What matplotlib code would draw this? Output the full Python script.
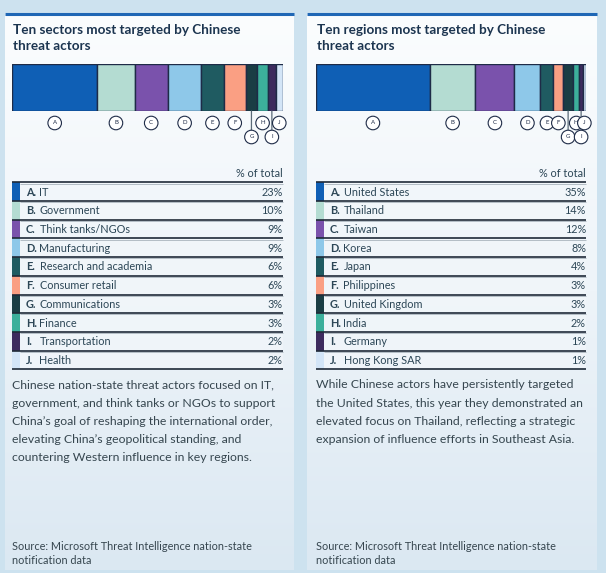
import numpy as np
import matplotlib
matplotlib.use("Agg")
import matplotlib.pyplot as plt
from matplotlib.patches import Rectangle
from matplotlib.colors import LinearSegmentedColormap

# ---------------- data ----------------
letters = ["A", "B", "C", "D", "E", "F", "G", "H", "I", "J"]

sector_title = "Ten sectors most targeted by Chinese\nthreat actors"
sector_names = ["IT", "Government", "Think tanks/NGOs", "Manufacturing",
                "Research and academia", "Consumer retail", "Communications",
                "Finance", "Transportation", "Health"]
sector_values = [23, 10, 9, 9, 6, 6, 3, 3, 2, 2]
sector_note = ("Chinese nation-state threat actors focused on IT,\n"
               "government, and think tanks or NGOs to support\n"
               "China\u2019s goal of reshaping the international order,\n"
               "elevating China\u2019s geopolitical standing, and\n"
               "countering Western influence in key regions.")

region_title = "Ten regions most targeted by Chinese\nthreat actors"
region_names = ["United States", "Thailand", "Taiwan", "Korea", "Japan",
                "Philippines", "United Kingdom", "India", "Germany",
                "Hong Kong SAR"]
region_values = [35, 14, 12, 8, 4, 3, 3, 2, 1, 1]
region_note = ("While Chinese actors have persistently targeted\n"
               "the United States, this year they demonstrated an\n"
               "elevated focus on Thailand, reflecting a strategic\n"
               "expansion of influence efforts in Southeast Asia.")

source_text = "Source: Microsoft Threat Intelligence nation-state\nnotification data"
col_header = "% of total"

# ---------------- style ----------------
colors = ["#0f5fb5", "#b4dcd2", "#7a52ac", "#8ec8e9", "#1f5b61",
          "#fa9f83", "#1a3d44", "#3caf9b", "#3d2b5e", "#d3e5f7"]
lowered = ["G", "I"]
edge = "#1e2b47"
txt = "#2c4656"
title_c = "#1c3550"
note_c = "#36464f"
outer_bg = "#cde2ef"
accent = "#1f67b5"

W, H = 606, 573
fig = plt.figure(figsize=(W / 100, H / 100), dpi=100)
fig.patch.set_facecolor(outer_bg)

bg = fig.add_axes([0, 0, 1, 1])
bg.set_xlim(0, W)
bg.set_ylim(H, 0)
bg.axis("off")

FONT = "Lato"
cmap = LinearSegmentedColormap.from_list("p", ["#fbfdfe", "#eef4f9", "#dbe8f2"])
grad = np.linspace(0, 1, 256).reshape(-1, 1)

panels = [
    dict(x0=5, x1=294, bx0=12, bx1=283, title=sector_title, names=sector_names,
         values=sector_values, note=sector_note),
    dict(x0=307, x1=597, bx0=316, bx1=586, title=region_title, names=region_names,
         values=region_values, note=region_note),
]

top, bottom = 13, 570
bar_top, bar_bot = 64, 111
row_top, row_h = 182.3, 18.7

for p in panels:
    x0, x1, bx0, bx1 = p["x0"], p["x1"], p["bx0"], p["bx1"]
    bg.imshow(grad, extent=[x0, x1, bottom, top], cmap=cmap, aspect="auto",
              zorder=0, interpolation="bicubic")
    bg.plot([x0, x1], [top + 1, top + 1], color=accent, lw=2.2, zorder=2,
            solid_capstyle="butt")
    bg.text(bx0 + 1, 23.5, p["title"], fontsize=9.7, fontweight="bold",
            color=title_c, family=FONT, va="top", ha="left", linespacing=1.45)

    # stacked bar
    vals = np.array(p["values"], dtype=float)
    lefts = np.concatenate([[0], np.cumsum(vals)[:-1]])
    ax = fig.add_axes([bx0 / W, 1 - bar_bot / H, (bx1 - bx0) / W,
                       (bar_bot - bar_top) / H])
    ax.barh(0, vals, left=lefts, height=1, color=colors, edgecolor=edge,
            linewidth=1.0, align="center")
    ax.set_xlim(0, vals.sum())
    ax.set_ylim(-0.5, 0.5)
    ax.axis("off")
    for L, lf, v in zip(letters, lefts, vals):
        mid = lf + v / 2
        kw = dict(xy=(mid, -0.5), xycoords="data", textcoords="offset pixels",
                  ha="center", va="center", fontsize=4.4, color=edge,
                  family=FONT,
                  bbox=dict(boxstyle="circle,pad=0.7", fc="white", ec=edge,
                            lw=0.8),
                  annotation_clip=False)
        if L in lowered:
            ax.annotate(L, xytext=(0, -26),
                        arrowprops=dict(arrowstyle="-", color="#5a6a78", lw=0.9,
                                        shrinkA=0, shrinkB=0), **kw)
        else:
            ax.annotate(L, xytext=(0, -12), **kw)

    # table
    bg.text(bx1, 173.5, col_header, fontsize=7.8, color=txt, family=FONT,
            ha="right", va="center")
    for i, (L, name, v) in enumerate(zip(letters, p["names"], p["values"])):
        y0 = row_top + i * row_h
        bg.add_patch(Rectangle((bx0, y0), bx1 - bx0, row_h, fc="#f1f6fa",
                               ec="none", zorder=1, alpha=0.8))
        bg.add_patch(Rectangle((bx0, y0), 7.5, row_h, fc=colors[i], ec="none",
                               zorder=3))
        bg.plot([bx0, bx1], [y0, y0], color="#1f2a38", lw=1.2, zorder=4,
                solid_capstyle="butt")
        bg.plot([bx0 + 7.5, bx1], [y0 + 1.2, y0 + 1.2], color="#a9b4bd", lw=0.6,
                zorder=4, solid_capstyle="butt")
        yc = y0 + row_h / 2 + 0.5
        bg.text(bx0 + 14, yc, L + ".", fontsize=7.8, color=txt, family=FONT,
                fontweight="bold", ha="left", va="center", zorder=5)
        bg.text(bx0 + 27.5, yc, name, fontsize=7.8, color=txt, family=FONT,
                ha="left", va="center", zorder=5)
        bg.text(bx1, yc, f"{v}%", fontsize=7.8, color=txt, family=FONT,
                ha="right", va="center", zorder=5)
    yend = row_top + len(letters) * row_h
    bg.plot([bx0, bx1], [yend, yend], color="#1f2a38", lw=1.2, zorder=4,
            solid_capstyle="butt")

    bg.text(bx0, 379.5, p["note"], fontsize=8.8, color=note_c, family=FONT,
            ha="left", va="top", linespacing=1.8, zorder=5)
    bg.text(bx0, 541, source_text, fontsize=7.8, color=note_c, family=FONT,
            ha="left", va="top", linespacing=1.35, zorder=5)

fig.savefig("out.png", dpi=100, facecolor=fig.get_facecolor())
